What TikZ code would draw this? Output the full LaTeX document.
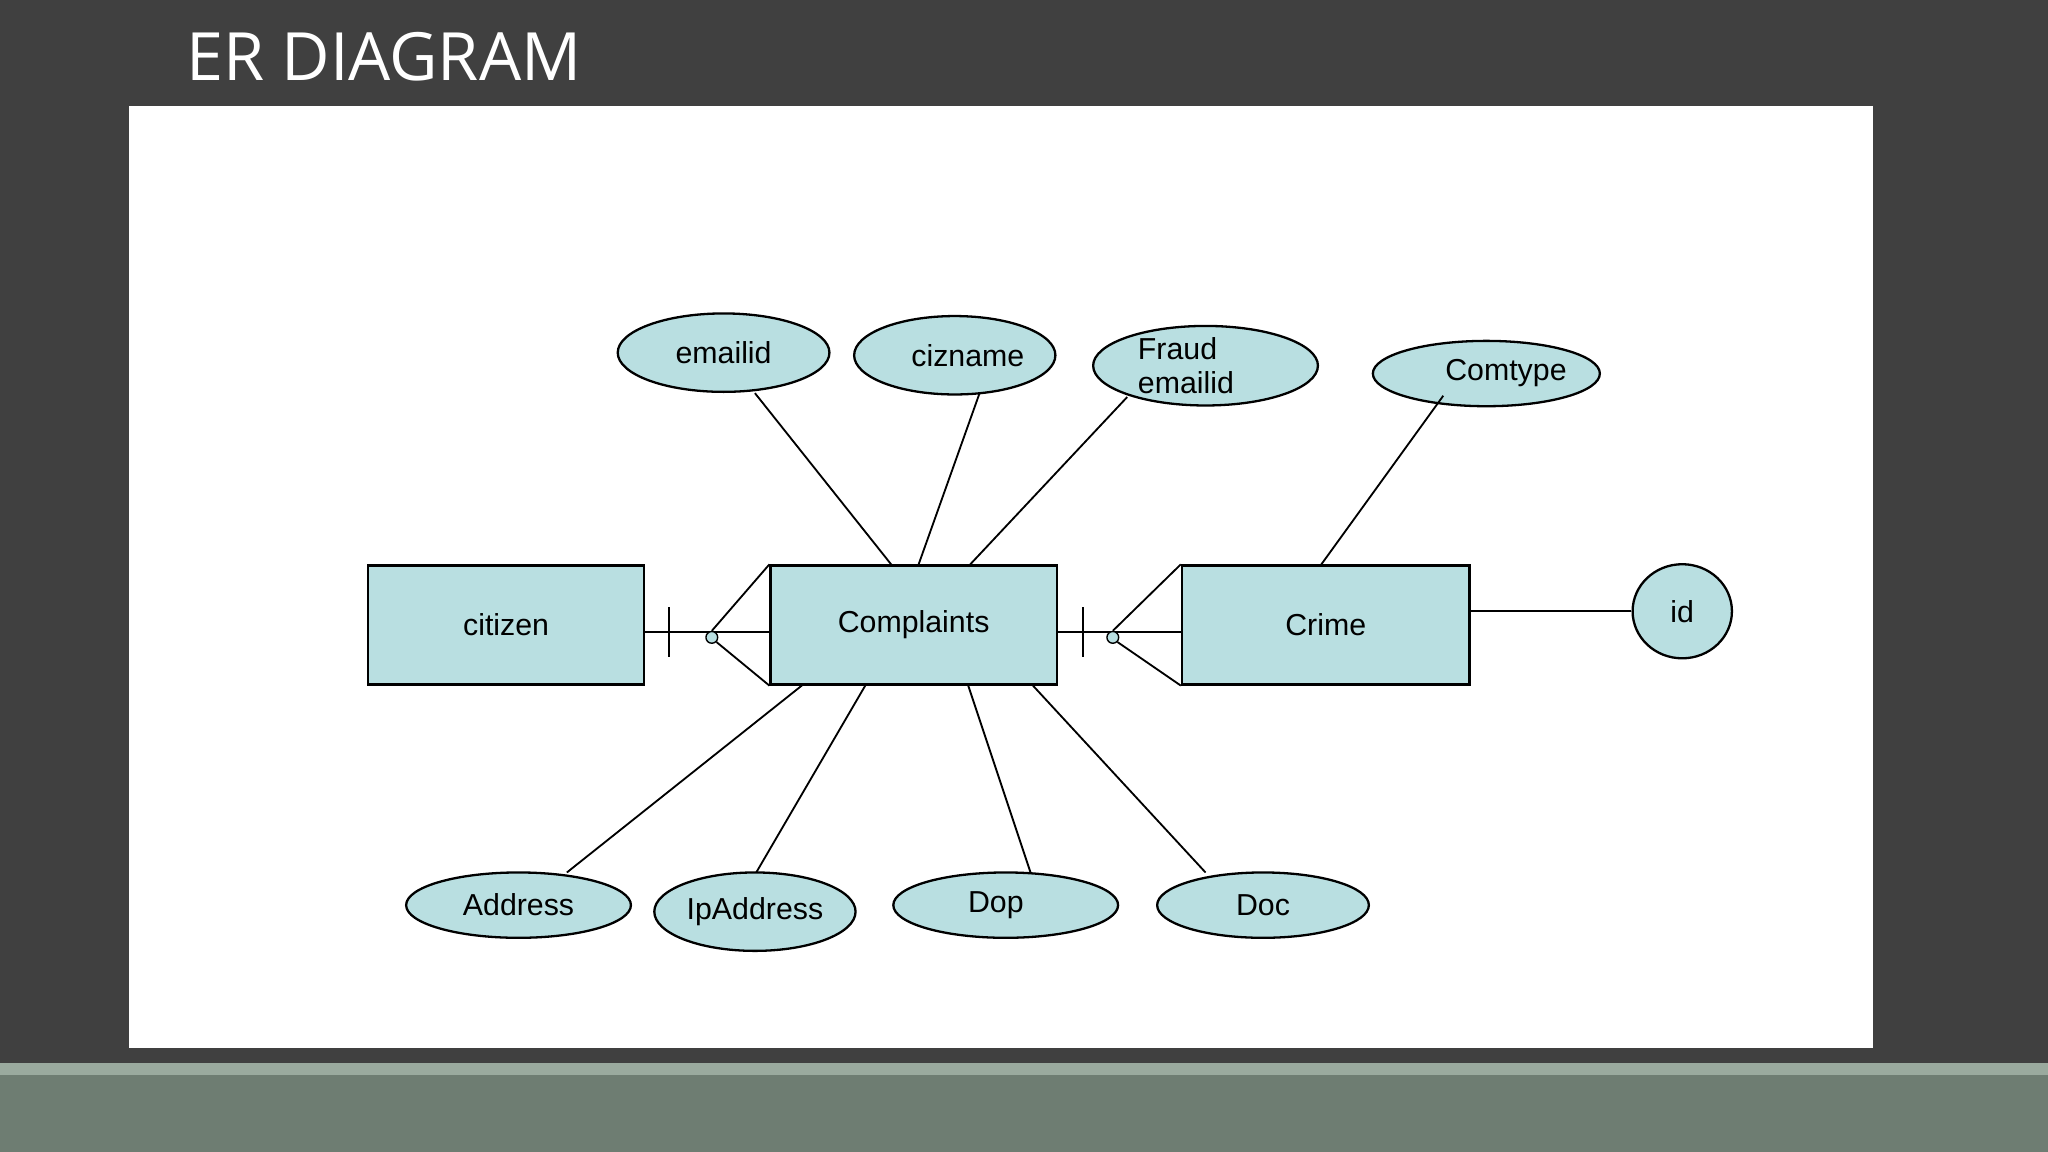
\documentclass[tikz,border=0pt]{standalone}
\usepackage{fontspec}
\setmainfont{Liberation Sans}
\newfontfamily\titlefont{Open Sans}
\usetikzlibrary{shapes.geometric}
\definecolor{bgdark}{HTML}{404040}
\definecolor{band}{HTML}{6E7D72}
\definecolor{bandlight}{HTML}{9AAA9E}
\definecolor{ent}{HTML}{B9DFE1}
\begin{document}
\begin{tikzpicture}[x=0.01cm,y=-0.01cm,
  lbl/.style={font=\fontsize{6.6pt}{7.4pt}\selectfont},
  entity/.style={draw,fill=ent,line width=0.5pt,lbl},
  attr/.style={ellipse,draw,fill=ent,line width=0.5pt,lbl,inner sep=0pt},
  conn/.style={line width=0.4pt}]
  \useasboundingbox (0,0) rectangle (1568,882);
  \fill[bgdark] (0,0) rectangle (1568,882);
  \fill[bandlight] (0,814) rectangle (1568,823);
  \fill[band] (0,823) rectangle (1568,882);
  \fill[white] (99,81) rectangle (1434,802);
  \node[anchor=base west,text=white,font=\titlefont\fontsize{14.5pt}{16pt}\selectfont] (title) at (130,62) {ER DIAGRAM};
  % entities
  \node[entity,minimum width=2.11cm,minimum height=0.91cm] (cit) at (387.5,478.5) {citizen};
  \node[entity,minimum width=2.19cm,minimum height=0.91cm] (comp) at (699.5,478.5) {Complaints};
  \node[entity,minimum width=2.20cm,minimum height=0.91cm] (crime) at (1015,478.5) {Crime};
  % attributes
  \node[attr,minimum width=1.62cm,minimum height=0.60cm] (email) at (554,270) {emailid};
  \node[attr,minimum width=1.54cm,minimum height=0.60cm] (cizn) at (731,272) {\hspace*{0.2cm}cizname};
  \node[attr,minimum width=1.72cm,minimum height=0.60cm,align=left] (fraud) at (923,280) {Fraud\\emailid\hspace*{0.3cm}};
  \node[attr,minimum width=1.44cm,minimum height=0.50cm] (ctype) at (1138,286) {\hspace*{0.3cm}Comtype};
  \node[attr,minimum width=0.76cm,minimum height=0.72cm] (id) at (1288,468) {id};
  \node[attr,minimum width=1.72cm,minimum height=0.50cm] (addr) at (397,693) {Address};
  \node[attr,minimum width=1.54cm,minimum height=0.60cm] (ip) at (578,698) {IpAddress};
  \node[attr,minimum width=1.72cm,minimum height=0.50cm] (dop) at (770,693) {\hspace*{-0.15cm}Dop};
  \node[attr,minimum width=1.62cm,minimum height=0.50cm] (doc) at (967,693) {Doc};
  % attribute connectors
  \coordinate (ea) at (578,301); \coordinate (ca) at (683,433);
  \draw[conn] (ea) -- (ca);
  \coordinate (za) at (750,301); \coordinate (cb) at (703,433);
  \draw[conn] (za) -- (cb);
  \coordinate (fa) at (863,304); \coordinate (cc) at (742,433);
  \draw[conn] (fa) -- (cc);
  \coordinate (ta) at (1105,303); \coordinate (ra) at (1011,433);
  \draw[conn] (ta) -- (ra);
  \draw[conn] (crime.east |- id.west) -- (id.west);
  \coordinate (cd) at (615,524); \coordinate (aa) at (434,668);
  \draw[conn] (cd) -- (aa);
  \coordinate (ce) at (663,524); \coordinate (ia) at (579,668);
  \draw[conn] (ce) -- (ia);
  \coordinate (cf) at (741,524); \coordinate (da) at (789,668);
  \draw[conn] (cf) -- (da);
  \coordinate (cg) at (790,524); \coordinate (oa) at (923,668);
  \draw[conn] (cg) -- (oa);
  % relationship: citizen -- Complaints
  \draw[conn] (cit.east |- 0,484) -- (comp.west |- 0,484);
  \coordinate (b1t) at (512,465); \coordinate (b1b) at (512,503);
  \draw[conn] (b1t) -- (b1b);
  \node[circle,draw,fill=ent,inner sep=0pt,minimum size=0.09cm,line width=0.3pt] (o1) at (545,488) {};
  \draw[conn] (o1.north) -- (comp.north west);
  \draw[conn] (o1.south east) -- (comp.south west);
  % relationship: Complaints -- Crime
  \draw[conn] (comp.east |- 0,484) -- (crime.west |- 0,484);
  \coordinate (b2t) at (829,465); \coordinate (b2b) at (829,503);
  \draw[conn] (b2t) -- (b2b);
  \node[circle,draw,fill=ent,inner sep=0pt,minimum size=0.09cm,line width=0.3pt] (o2) at (852,488) {};
  \draw[conn] (o2.north) -- (crime.north west);
  \draw[conn] (o2.south east) -- (crime.south west);
\end{tikzpicture}
\end{document}
